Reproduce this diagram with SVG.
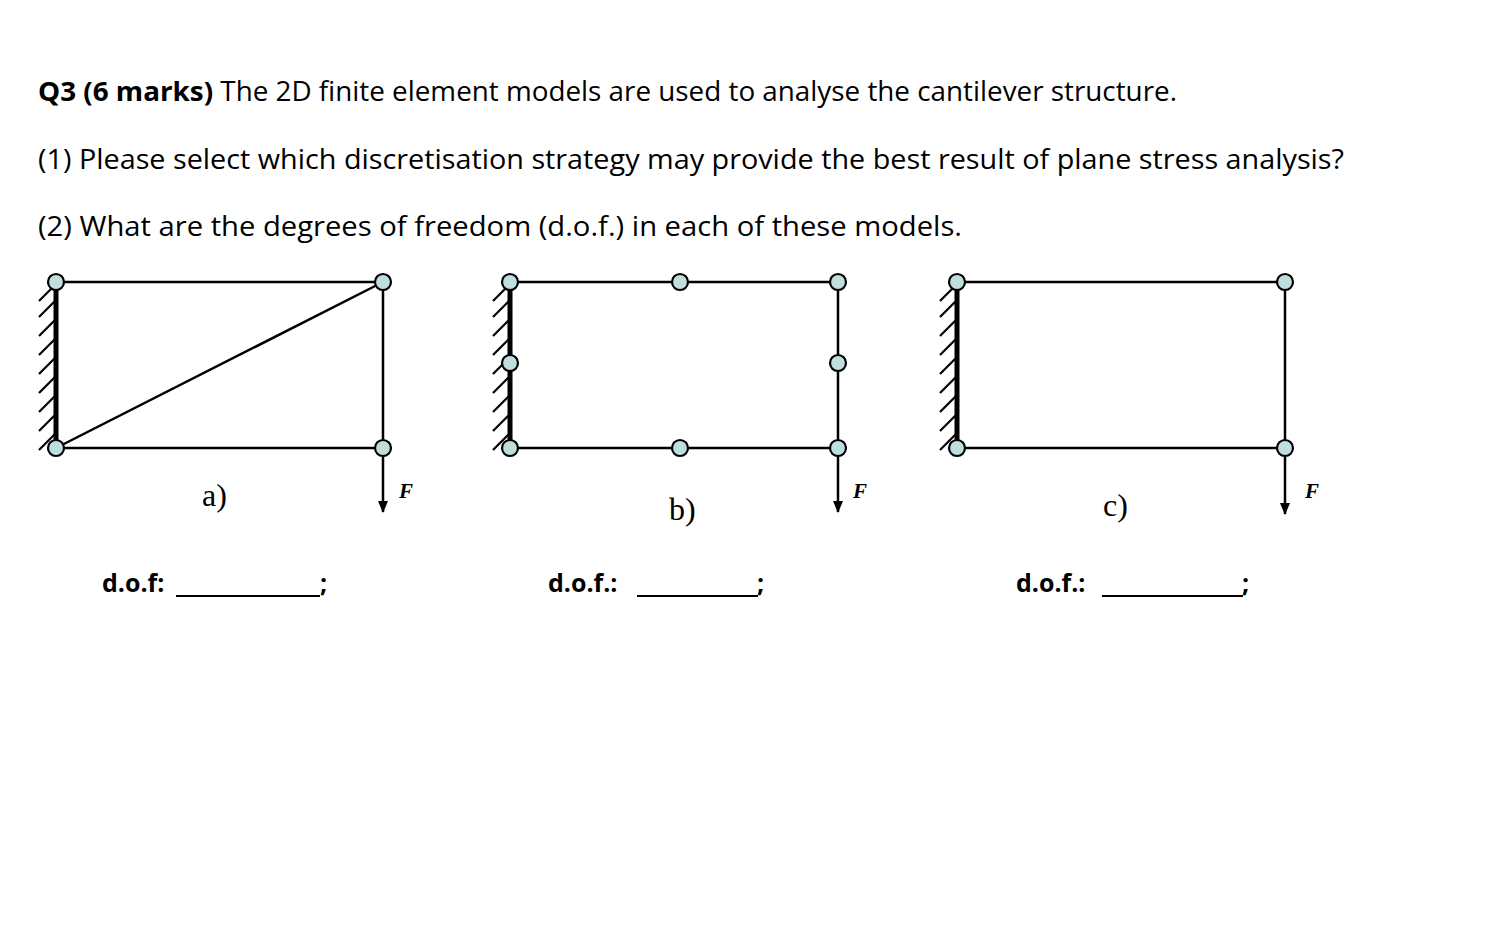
<svg xmlns="http://www.w3.org/2000/svg" width="1512" height="928" viewBox="0 0 1512 928">
<defs>
<style>
.q{font-family:"Open Sans","Liberation Sans",sans-serif;font-size:27px;fill:#000}
.b{font-weight:bold}
.lab{font-family:"Liberation Serif",serif;font-size:32px}
.F{font-family:"Liberation Serif",serif;font-size:21px;font-weight:bold;font-style:italic}
.e{stroke:#000;stroke-width:2.5;fill:none}
.w{stroke:#000;stroke-width:5}
.h{stroke:#000;stroke-width:2.2}
.n{fill:#bfdfdf;stroke:#000;stroke-width:2.2}
.d{font-family:"Open Sans","Liberation Sans",sans-serif;font-size:25px;font-weight:bold}
.u{stroke:#000;stroke-width:1.8}
</style>
<marker id="ar" markerWidth="12" markerHeight="10" refX="11" refY="5" orient="auto" markerUnits="userSpaceOnUse"><path d="M0,0 L12,5 L0,10 Z" fill="#000"/></marker>
<g id="hatch"><path class="h" d="M39,317 l17,-17 M39,336 l17,-17 M39,355 l17,-17 M39,374 l17,-17 M39,393 l17,-17 M39,412 l17,-17 M39,431 l17,-17 M39,450 l17,-17 M39,301 l17,-17"/></g>
</defs>
<rect width="1512" height="928" fill="#fff"/>
<text class="q" x="38" y="101" textLength="1139" lengthAdjust="spacingAndGlyphs"><tspan class="b">Q3 (6 marks)</tspan> The 2D finite element models are used to analyse the cantilever structure.</text>
<text class="q" x="38" y="169" textLength="1306" lengthAdjust="spacingAndGlyphs">(1) Please select which discretisation strategy may provide the best result of plane stress analysis?</text>
<text class="q" x="38" y="236" textLength="924" lengthAdjust="spacingAndGlyphs">(2) What are the degrees of freedom (d.o.f.) in each of these models.</text>
<g id="connectors">
<path class="e" d="M56,282 H383 V448 H56 M56,448 L383,282"/>
<path class="w" d="M56,282 V448"/>
<path class="e" d="M510,282 H838 V448 H510"/>
<path class="w" d="M510,282 V448"/>
<path class="e" d="M957,282 H1285 V448 H957"/>
<path class="w" d="M957,282 V448"/>
<path class="e" d="M383,448 V512" marker-end="url(#ar)"/>
<path class="e" d="M838,448 V512" marker-end="url(#ar)"/>
<path class="e" d="M1285,448 V514" marker-end="url(#ar)"/>
</g>
<use href="#hatch"/>
<use href="#hatch" x="454"/>
<use href="#hatch" x="901"/>
<g id="model-a">
<circle class="n" cx="56" cy="282" r="8"/><circle class="n" cx="383" cy="282" r="8"/><circle class="n" cx="56" cy="448" r="8"/><circle class="n" cx="383" cy="448" r="8"/>
<text class="lab" x="202" y="506">a)</text><text class="F" x="399" y="498">F</text>
</g>
<g id="model-b">
<circle class="n" cx="510" cy="282" r="8"/><circle class="n" cx="680" cy="282" r="8"/><circle class="n" cx="838" cy="282" r="8"/>
<circle class="n" cx="510" cy="363" r="8"/><circle class="n" cx="838" cy="363" r="8"/>
<circle class="n" cx="510" cy="448" r="8"/><circle class="n" cx="680" cy="448" r="8"/><circle class="n" cx="838" cy="448" r="8"/>
<text class="lab" x="669" y="520">b)</text><text class="F" x="853" y="498">F</text>
</g>
<g id="model-c">
<circle class="n" cx="957" cy="282" r="8"/><circle class="n" cx="1285" cy="282" r="8"/><circle class="n" cx="957" cy="448" r="8"/><circle class="n" cx="1285" cy="448" r="8"/>
<text class="lab" x="1103" y="516">c)</text><text class="F" x="1305" y="498">F</text>
</g>
<g id="answers">
<text class="d" x="102" y="592">d.o.f:</text><line class="u" x1="176" y1="596" x2="320" y2="596"/><text class="d" x="320" y="592">;</text>
<text class="d" x="548" y="592">d.o.f.:</text><line class="u" x1="637" y1="596" x2="758" y2="596"/><text class="d" x="757" y="592">;</text>
<text class="d" x="1016" y="592">d.o.f.:</text><line class="u" x1="1102" y1="596" x2="1243" y2="596"/><text class="d" x="1242" y="592">;</text>
</g>
</svg>
